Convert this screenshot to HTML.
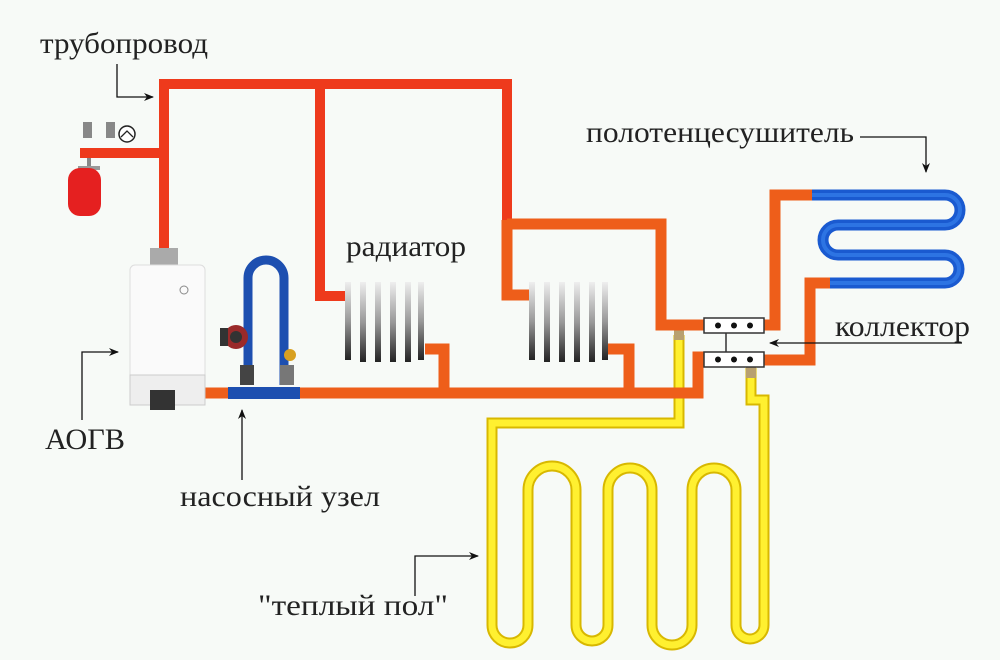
<!DOCTYPE html>
<html><head><meta charset="utf-8"><style>
html,body{margin:0;padding:0;background:#f7faf7;}
svg{display:block}
text{font-family:"Liberation Serif",serif;fill:#222;}
</style></head><body>
<svg width="1000" height="660" viewBox="0 0 1000 660" xmlns="http://www.w3.org/2000/svg">
<defs>
<linearGradient id="rad" x1="0" y1="0" x2="0" y2="1">
<stop offset="0" stop-color="#eee"/><stop offset="0.5" stop-color="#999"/><stop offset="1" stop-color="#222"/>
</linearGradient>
<marker id="ah" markerWidth="10" markerHeight="8" refX="9" refY="4" orient="auto" markerUnits="userSpaceOnUse">
<path d="M0,0 L10,4 L0,8 L3,4z" fill="#111"/></marker>
</defs>
<rect width="1000" height="660" fill="#f7faf7"/>

<!-- yellow floor -->
<g fill="none" stroke-linejoin="miter">
<path d="M679,335 V423 H492 V625 A18,18 0 0 0 528,625 V490 A24,24 0 0 1 576,490 V625 A16,16 0 0 0 608,625 V490 A22,22 0 0 1 652,490 V625 A20,20 0 0 0 692,625 V490 A22,22 0 0 1 736,490 V625 A14,14 0 0 0 764,625 V400 H751 V368" stroke="#d8b800" stroke-width="11"/>
<path d="M679,335 V423 H492 V625 A18,18 0 0 0 528,625 V490 A24,24 0 0 1 576,490 V625 A16,16 0 0 0 608,625 V490 A22,22 0 0 1 652,490 V625 A20,20 0 0 0 692,625 V490 A22,22 0 0 1 736,490 V625 A14,14 0 0 0 764,625 V400 H751 V368" stroke="#fff030" stroke-width="7"/>
</g>
<rect x="674" y="328" width="10" height="12" fill="#b8a070"/>
<rect x="746" y="366" width="10" height="12" fill="#b8a070"/>

<!-- blue towel dryer -->
<path d="M808,195 H945 A15,15 0 0 1 945,225 H838 A15,15 0 0 0 838,255 H945 A14,14 0 0 1 945,283 H826" fill="none" stroke="#1a5ad0" stroke-width="11"/>
<path d="M808,195 H945 A15,15 0 0 1 945,225 H838 A15,15 0 0 0 838,255 H945 A14,14 0 0 1 945,283 H826" fill="none" stroke="#3a86f0" stroke-width="4" opacity="0.6"/>

<!-- red supply pipes -->
<g fill="none" stroke="#ee3a1c" stroke-width="10" stroke-linejoin="miter">
<path d="M164,255 V84 H507 V225"/>
<path d="M80,153 H164"/>
<path d="M320,84 V296 H348"/>
</g>
<!-- orange pipes -->
<g fill="none" stroke="#ee5e1a" stroke-width="11" stroke-linejoin="miter">
<path d="M507,220 V224 H661 V325 H706"/>
<path d="M507,224 V295 H530"/>
<path d="M205,393 H698 V357 H706"/>
<path d="M425,349 H444 V393"/>
<path d="M608,349 H629 V393"/>
<path d="M764,325 H775 V195 H812"/>
<path d="M764,360 H810 V283 H830"/>
</g>

<!-- collector -->
<rect x="704" y="318" width="60" height="15" fill="#fff" stroke="#333" stroke-width="1.5"/>
<rect x="704" y="352" width="60" height="15" fill="#fff" stroke="#333" stroke-width="1.5"/>
<line x1="726" y1="333" x2="726" y2="352" stroke="#333" stroke-width="1.5"/>
<g fill="#111"><circle cx="718" cy="325.5" r="3"/><circle cx="734" cy="325.5" r="3"/><circle cx="750" cy="325.5" r="3"/>
<circle cx="718" cy="359.5" r="3"/><circle cx="734" cy="359.5" r="3"/><circle cx="750" cy="359.5" r="3"/></g>

<!-- radiators -->
<g fill="url(#rad)">
<rect x="345" y="282" width="6" height="78"/><rect x="360" y="282" width="6" height="80"/><rect x="375" y="282" width="6" height="80"/><rect x="390" y="282" width="6" height="80"/><rect x="405" y="282" width="6" height="80"/><rect x="418" y="282" width="6" height="78"/>
<rect x="529" y="282" width="6" height="78"/><rect x="544" y="282" width="6" height="80"/><rect x="559" y="282" width="6" height="80"/><rect x="574" y="282" width="6" height="80"/><rect x="589" y="282" width="6" height="80"/><rect x="602" y="282" width="6" height="78"/>
</g>

<!-- expansion tank & gauges -->
<rect x="83" y="122" width="9" height="16" fill="#888"/>
<rect x="106" y="122" width="9" height="16" fill="#888"/>
<circle cx="127" cy="134" r="8" fill="#fff" stroke="#222" stroke-width="1.5"/>
<path d="M121,137 L127,131 L133,137" fill="none" stroke="#222" stroke-width="1.3"/>
<rect x="87" y="158" width="4" height="10" fill="#888"/>
<rect x="78" y="166" width="22" height="4" fill="#999"/>
<rect x="68" y="168" width="33" height="48" rx="12" fill="#e52020"/>

<!-- boiler -->
<rect x="150" y="248" width="28" height="20" fill="#aaa"/>
<rect x="130" y="265" width="75" height="118" rx="5" fill="#fafafa" stroke="#ddd"/>
<rect x="130" y="375" width="75" height="30" fill="#eee" stroke="#ccc"/>
<rect x="150" y="390" width="25" height="20" fill="#333"/>
<circle cx="184" cy="290" r="4" fill="none" stroke="#888"/>

<!-- pump unit -->
<path d="M248,385 V278 A18,18 0 0 1 284,278 V385" fill="none" stroke="#1d4fb0" stroke-width="9"/>
<rect x="228" y="387" width="72" height="12" fill="#1d4fb0"/>
<circle cx="236" cy="337" r="12" fill="#9a2a2a"/>
<circle cx="236" cy="337" r="6" fill="#333"/>
<rect x="220" y="328" width="8" height="18" fill="#333"/>
<rect x="240" y="365" width="14" height="20" fill="#444"/>
<rect x="280" y="365" width="14" height="20" fill="#777"/>
<circle cx="290" cy="355" r="6" fill="#d8a020"/>

<!-- labels -->
<text x="40" y="53" font-size="30" textLength="168" lengthAdjust="spacingAndGlyphs">трубопровод</text>
<path d="M117,64 V97 H153" fill="none" stroke="#111" stroke-width="1.3" marker-end="url(#ah)"/>
<text x="346" y="256" font-size="30" textLength="120" lengthAdjust="spacingAndGlyphs">радиатор</text>
<text x="586" y="142" font-size="30" textLength="268" lengthAdjust="spacingAndGlyphs">полотенцесушитель</text>
<path d="M860,137 H926 V172" fill="none" stroke="#111" stroke-width="1.3" marker-end="url(#ah)"/>
<text x="835" y="336" font-size="30" textLength="135" lengthAdjust="spacingAndGlyphs">коллектор</text>
<path d="M962,343 H770" fill="none" stroke="#111" stroke-width="1.3" marker-end="url(#ah)"/>
<text x="45" y="449" font-size="30" textLength="80" lengthAdjust="spacingAndGlyphs">АОГВ</text>
<path d="M82,420 V352 H118" fill="none" stroke="#111" stroke-width="1.3" marker-end="url(#ah)"/>
<text x="180" y="506" font-size="30" textLength="200" lengthAdjust="spacingAndGlyphs">насосный узел</text>
<path d="M242,480 V410" fill="none" stroke="#111" stroke-width="1.3" marker-end="url(#ah)"/>
<text x="258" y="615" font-size="30" textLength="190" lengthAdjust="spacingAndGlyphs">"теплый пол"</text>
<path d="M415,596 V556 H478" fill="none" stroke="#111" stroke-width="1.3" marker-end="url(#ah)"/>
</svg>
</body></html>
